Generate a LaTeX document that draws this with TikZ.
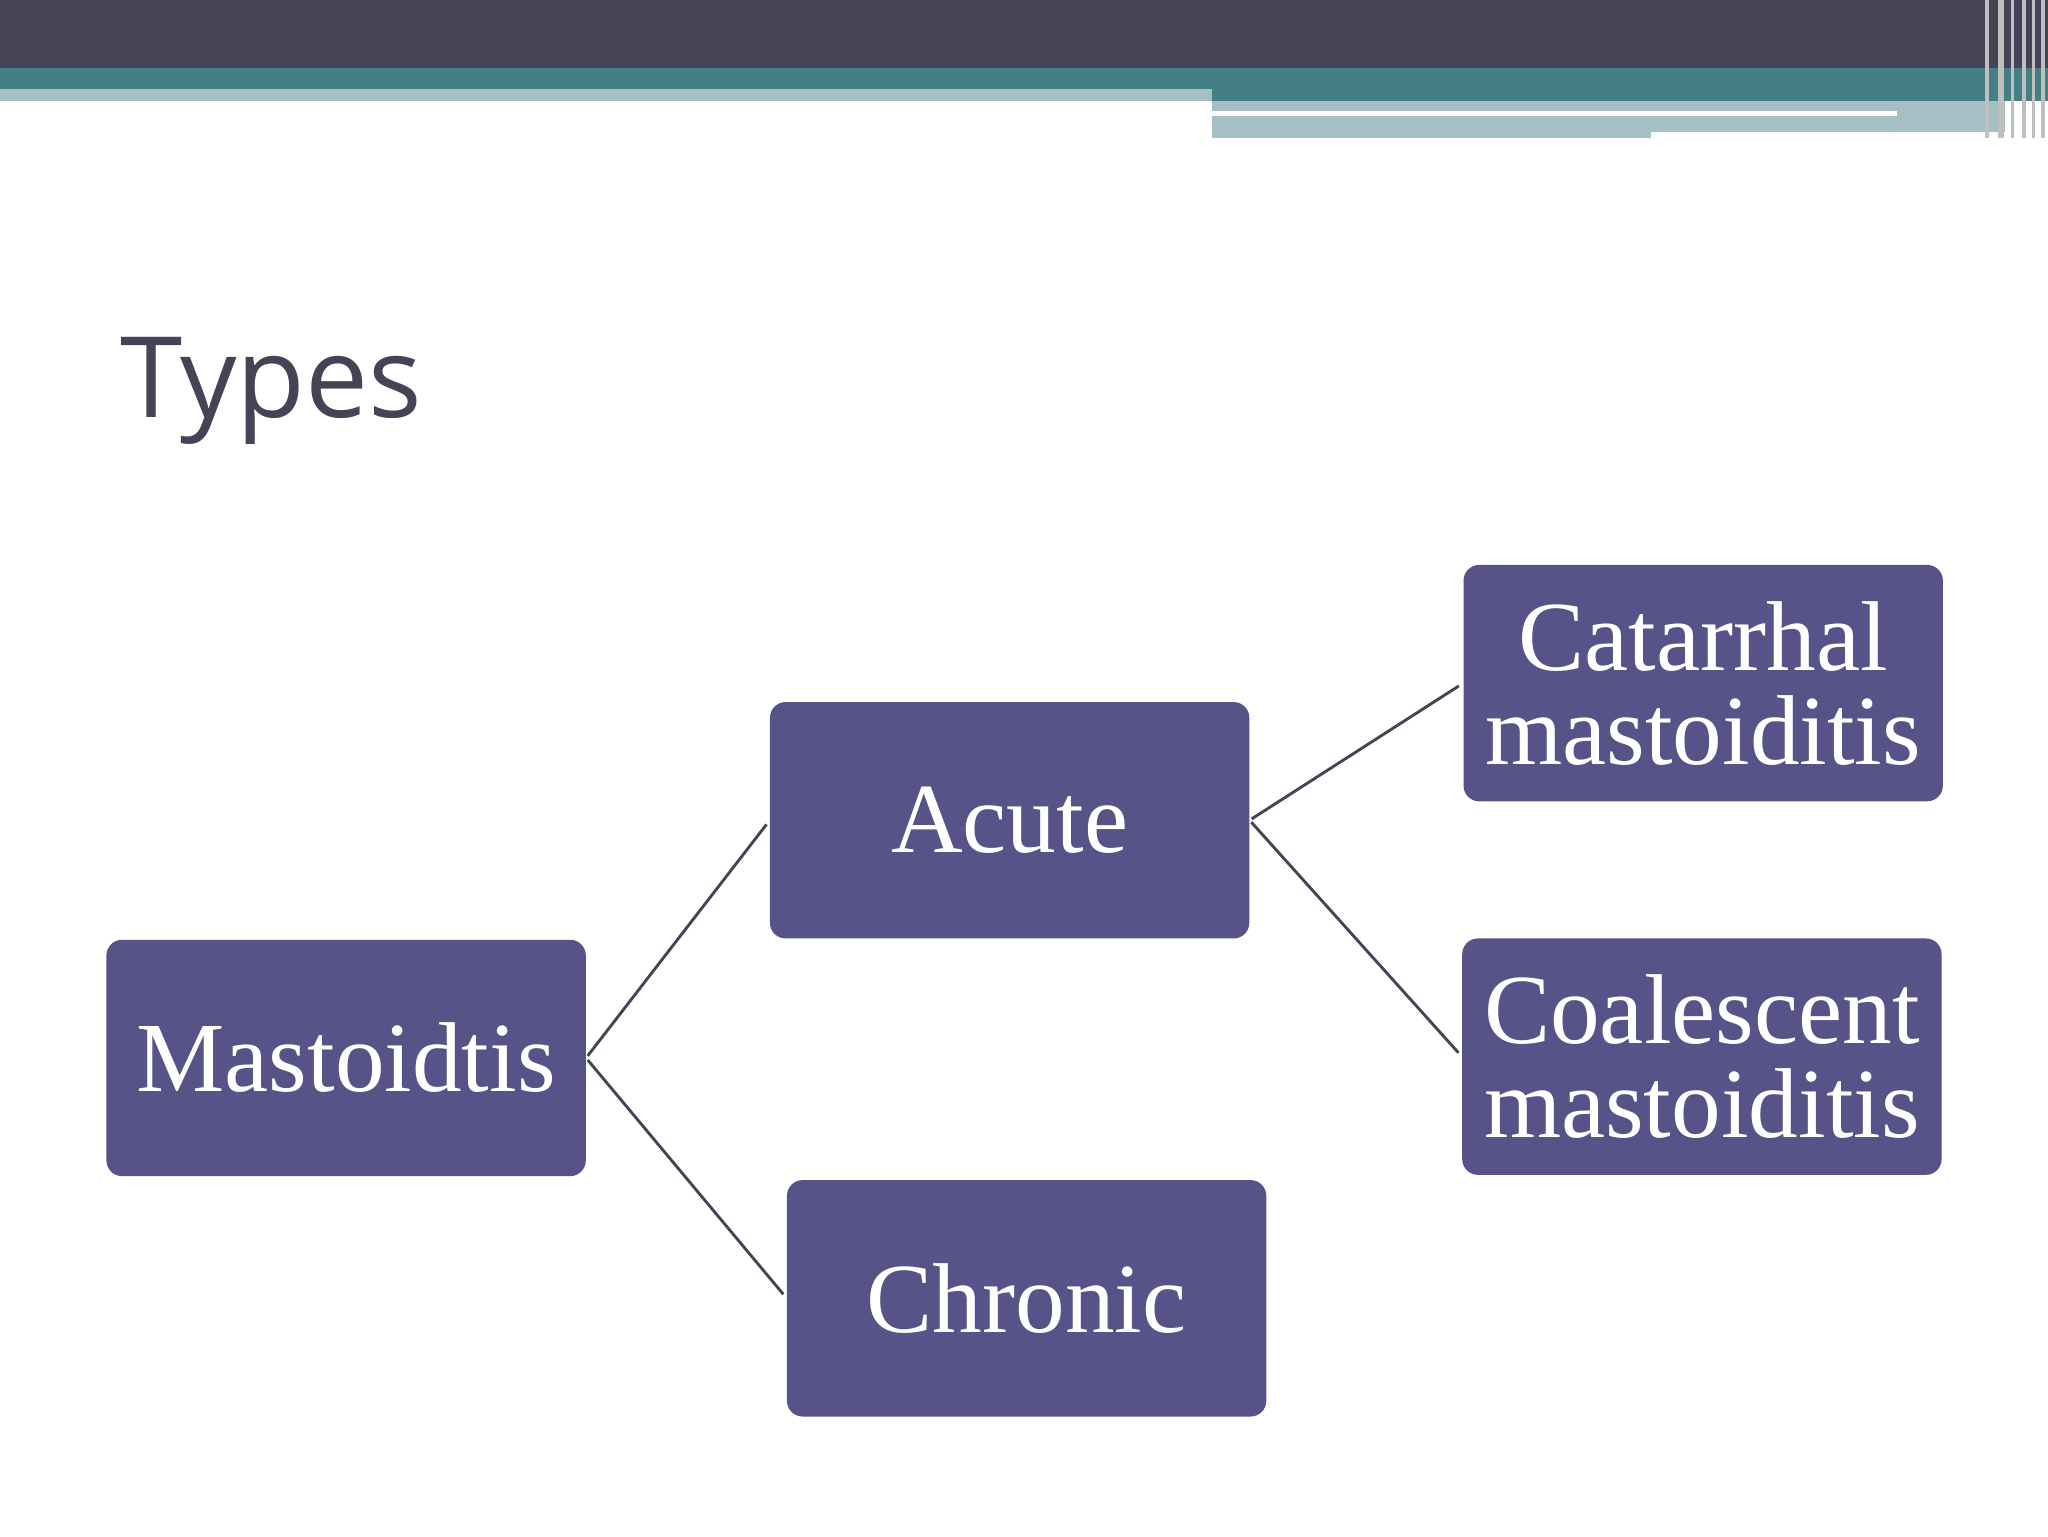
\documentclass[tikz,border=0pt]{standalone}
\usepackage{fontspec}
\setmainfont{Liberation Serif}
\newfontfamily\titlefont{Open Sans}
\definecolor{dark}{HTML}{454456}
\definecolor{teal}{HTML}{437F85}
\definecolor{lite}{HTML}{A5BFC4}
\definecolor{boxc}{HTML}{575288}
\tikzset{tbox/.style={fill=boxc,rounded corners=12pt,minimum width=367pt,minimum height=181pt,text=white,align=center,font=\fontsize{76}{72}\selectfont,inner sep=0pt},
link/.style={draw=dark,line width=2.2pt,shorten <=2pt,shorten >=4pt}}
\begin{document}
\begin{tikzpicture}[x=1pt,y=-1pt]
\useasboundingbox (0,0) rectangle (1568,1176);
\fill[white] (0,0) rectangle (1568,1176);
\fill[dark] (0,0) rectangle (1568,52);
\fill[teal] (0,52) rectangle (1568,68);
\fill[lite] (0,68) rectangle (928,77);
\fill[teal] (928,68) rectangle (1568,77);
\fill[lite] (928,77) rectangle (1264,106);
\fill[lite] (1264,77) rectangle (1535,101);
\fill[white] (928,85) rectangle (1452,89);
\foreach \x/\w in {1520/3,1530/4,1540/2,1548/3,1556/2,1563/3}{\fill[gray!50] (\x,0) rectangle (\x+\w,106);}
\node[anchor=base west,text=dark,font=\titlefont\fontsize{86}{90}\selectfont,inner sep=0pt] (title) at (92,320) {Types};
\node[tbox] (m) at (265,810) {Mastoidtis};
\node[tbox] (a) at (773,628) {Acute};
\node[tbox] (c) at (786,994) {Chronic};
\node[tbox] (ca) at (1304,523) {Catarrhal\\mastoiditis};
\node[tbox] (co) at (1303,809) {Coalescent\\mastoiditis};
\draw[link] (m.east) -- (a.west);
\draw[link] (m.east) -- (c.west);
\draw[link] (a.east) -- (ca.west);
\draw[link] (a.east) -- (co.west);
\end{tikzpicture}
\end{document}
